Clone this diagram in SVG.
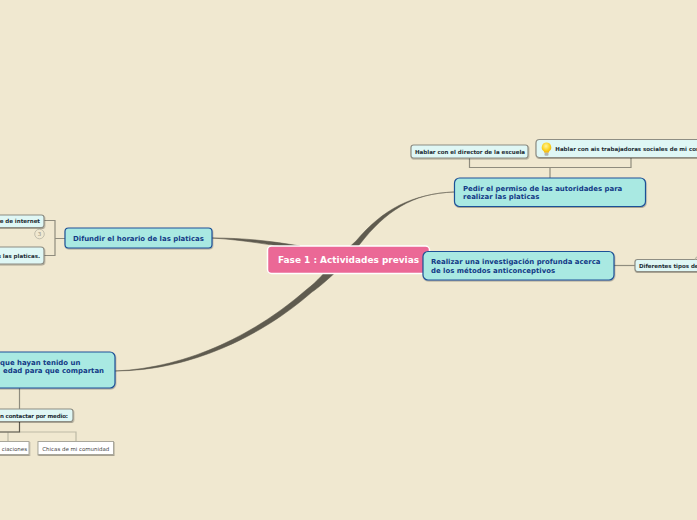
<svg xmlns="http://www.w3.org/2000/svg" width="697" height="520" viewBox="0 0 697 520">
<defs>
<radialGradient id="bulb" cx="0.45" cy="0.35" r="0.7"><stop offset="0" stop-color="#fff59a"/><stop offset="0.6" stop-color="#fcd21e"/><stop offset="1" stop-color="#e8a60c"/></radialGradient>
<filter id="sh" x="-10%" y="-20%" width="120%" height="150%"><feDropShadow dx="0.5" dy="1" stdDeviation="0.7" flood-color="#000" flood-opacity="0.3"/></filter>
</defs>
<style>
text{font-family:"DejaVu Sans",Verdana,sans-serif}
.main{fill:#A9E9E2;stroke:#1F5197;stroke-width:1.2;filter:url(#sh)}
.mt{font-size:6.95px;font-weight:bold;fill:#123A86}
.sub{fill:#DFF7F5;stroke:#8E8E84;stroke-width:1.2;filter:url(#sh)}
.st{font-size:5.5px;font-weight:bold;fill:#1c2b33}
.leaf{fill:#fff;stroke:#A9A79C;stroke-width:1;filter:url(#sh)}
.lt{font-size:5.45px;fill:#444}
.c{fill:none;stroke:#8F8C7E;stroke-width:1.200}
.d{fill:none;stroke:#BDB9A6;stroke-width:1.200}
.k{fill:none;stroke:#5F5B4F;stroke-width:1.200}
</style>
<rect width="697" height="520" fill="#F0E8D0"/>
<g id="connectors">
<path d="M454 192C412 193 385 212 360 244L338 270C325 282 318 288 312 292C262 336 190 371 115 371C190 368 258 332 306 290C318 281 325 272 333 262L356 241C383 209 412 194 454 192Z" fill="#5F5B4F" stroke="#5F5B4F" stroke-width="0.500"/>
<path d="M300 246C270 241 245 238 212 238C245 240 270 245 298 249Z" fill="#5F5B4F" stroke="#5F5B4F" stroke-width="0.600"/>
<path class="c" d="M550 178V167.500M469.500 158V167.500H631V158"/>
<path class="c" d="M614 265.500H635"/>
<path class="c" d="M65 238.500H55M44 220.500H55V255.500H44"/>
<path class="c" d="M19.500 388V409"/>
<path class="d" d="M-5 432H76V441M8 432V441"/>
<path class="k" d="M19.500 421V432H0"/>
<circle cx="39.500" cy="234" r="4.800" fill="#F0E8D0" stroke="#B5B2A2" stroke-width="0.800"/>
<text x="39.500" y="236" font-size="5.500" text-anchor="middle" fill="#8f8c7e">3</text>
</g>
<g id="n-center">
<rect x="267.500" y="246" width="162" height="27.500" rx="4" fill="#EB6896" stroke="#fff" stroke-width="1.500"/>
<text x="348.500" y="263" font-size="8.950" font-weight="bold" fill="#fff" text-anchor="middle">Fase 1 : Actividades previas</text>
</g>
<g id="n-pedir">
<rect class="main" x="454.500" y="178" width="191" height="28.500" rx="5"/>
<text class="mt" x="463" y="191">Pedir el permiso de las autoridades para</text>
<text class="mt" x="463" y="199">realizar las platicas</text>
</g>
<g id="n-director">
<rect class="sub" x="411" y="145" width="117" height="13" rx="2.500"/>
<text class="st" x="415" y="154">Hablar con el director de la escuela</text>
</g>
<g id="n-trabajadoras">
<rect class="sub" x="536" y="139.500" width="175" height="18" rx="3.500"/>
<path d="M546.500 142.500a4.800 4.800 0 0 1 3 8.500c-.7.700-.8 1.200-.8 1.800h-4.400c0-.6-.1-1.100-.8-1.800a4.800 4.800 0 0 1 3-8.500z" fill="url(#bulb)"/>
<rect x="544.500" y="152.800" width="4" height="3" rx="1" fill="#B5B5AC"/>
<text class="st" x="555.300" y="151">Hablar con ais trabajadoras sociales de mi con</text>
</g>
<g id="n-realizar">
<rect class="main" x="423" y="251.500" width="191" height="28.500" rx="5"/>
<text class="mt" x="431" y="264">Realizar una investigación profunda acerca</text>
<text class="mt" x="431" y="273">de los métodos anticonceptivos</text>
</g>
<g id="n-tipos">
<rect class="sub" x="635" y="259.500" width="80" height="12" rx="2.500"/>
<text class="st" x="639" y="268">Diferentes tipos de</text>
<path class="d" d="M695 259.500Q696 257 699 256"/>
</g>
<g id="n-difundir">
<rect class="main" x="65" y="228" width="147" height="20" rx="3.500"/>
<text class="mt" x="73" y="241">Difundir el horario de las platicas</text>
</g>
<g id="n-internet">
<rect class="sub" x="-20" y="215" width="64" height="12.500" rx="2.500"/>
<text class="st" x="40" y="223" text-anchor="end">e de internet</text>
</g>
<g id="n-platicas">
<rect class="sub" x="-20" y="247" width="64" height="17" rx="3"/>
<text class="st" x="40" y="258" text-anchor="end">s las platicas.</text>
</g>
<g id="n-hayan">
<rect class="main" x="-40" y="352" width="155" height="36" rx="5"/>
<text class="mt" x="0" y="365">que hayan tenido un</text>
<text class="mt" x="3" y="373">edad para que compartan</text>
</g>
<g id="n-contactar">
<rect class="sub" x="-20" y="409" width="93" height="12.500" rx="2.500"/>
<text class="st" x="68" y="417.500" text-anchor="end" textLength="68">n contactar por medio:</text>
</g>
<g id="n-asociaciones">
<rect class="leaf" x="-20" y="441.500" width="49" height="13"/>
<text class="lt" x="27" y="450.500" text-anchor="end">ciaciones</text>
</g>
<g id="n-chicas">
<rect class="leaf" x="38" y="441.500" width="75.500" height="13"/>
<text class="lt" x="75.800" y="450.500" text-anchor="middle">Chicas de mi comunidad</text>
</g>
</svg>
